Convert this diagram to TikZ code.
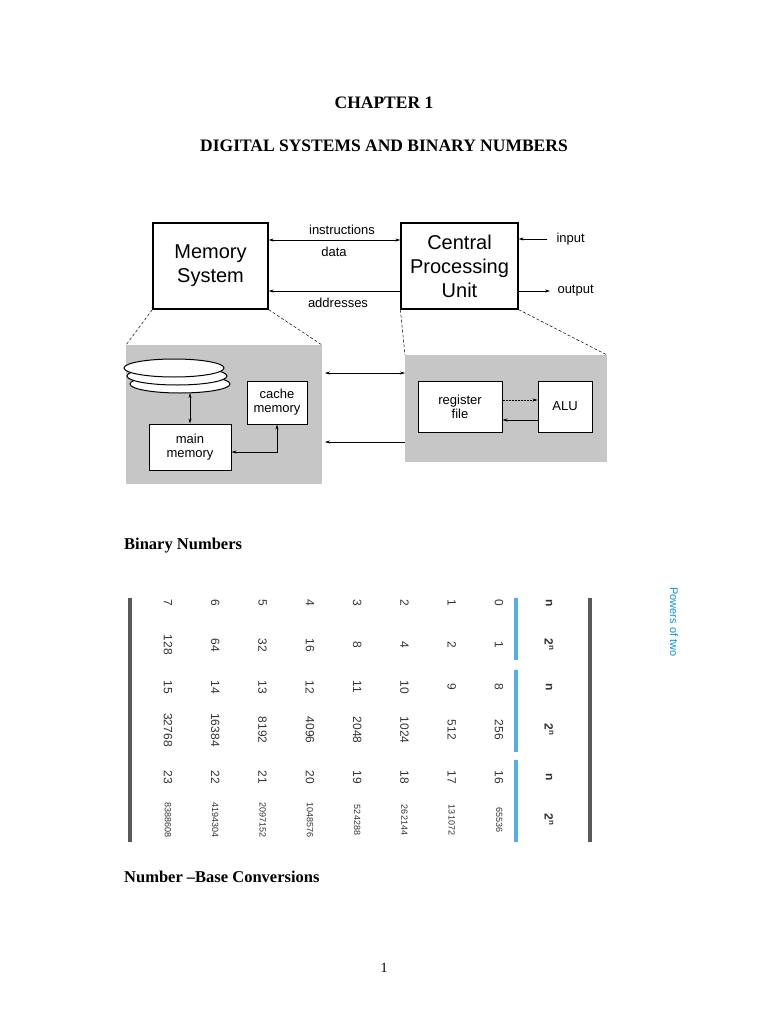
\documentclass[tikz,border=0pt]{standalone}
\usepackage{fontspec}
\setmainfont{Liberation Serif}
\newfontfamily\dsans{Liberation Sans}
\usetikzlibrary{arrows.meta,patterns}
\begin{document}
\begin{tikzpicture}[x=1pt,y=-1pt,
  box/.style={draw,line width=1.3pt,font=\dsans,align=center,inner sep=0},
  sbox/.style={draw,line width=1pt,fill=white,font=\dsans\fontsize{13}{14}\selectfont,align=center,inner sep=0},
  lbl/.style={font=\dsans\fontsize{13}{14}\selectfont},
  arr/.style={-{Stealth[length=5pt,width=3pt]},line width=0.5pt},
  darr/.style={{Stealth[length=5pt,width=3pt]}-{Stealth[length=5pt,width=3pt]},line width=0.5pt},
  shade/.style={fill=gray!45,draw=none},
  dsh/.style={densely dashed,line width=0.5pt},
  head/.style={font=\bfseries\fontsize{17.5}{20}\selectfont,inner sep=0},
  dig/.style={rotate=-90,font=\dsans\fontsize{12}{12}\selectfont,text=black!80},
  gbar/.style={line width=4pt,draw=gray!70!black},
  cbar/.style={line width=4pt,draw=cyan!80!blue!70}]
\useasboundingbox (0,0) rectangle (768,1024);
\fill[white] (0,0) rectangle (768,1024);
\node[head] (t1) at (384,103) {CHAPTER 1};
\node[head] (t2) at (384,146) {DIGITAL SYSTEMS AND BINARY NUMBERS};
% top boxes
\node[box,minimum width=115,minimum height=86,font=\dsans\fontsize{20}{24}\selectfont] (mem) at (210.5,266) {Memory\\System};
\node[box,minimum width=117,minimum height=86,font=\dsans\fontsize{20}{24}\selectfont] (cpu) at (459.5,266) {Central\\Processing\\Unit};
\draw[darr] (mem.east|-0,240) -- (cpu.west|-0,240);
\node[lbl] (ins) at (342,230) {instructions};
\node[lbl] (dat) at (334,252) {data};
\draw[arr] (cpu.west|-0,291) -- (mem.east|-0,291);
\node[lbl] (adr) at (338,303) {addresses};
\coordinate (inS) at (547,239);
\draw[arr] (inS) -- (cpu.east|-inS);
\node[lbl,anchor=west] (inp) at (553,239) {input};
\coordinate (outE) at (550,291);
\draw[arr] (cpu.east|-outE) -- (outE);
\node[lbl,anchor=west] (outp) at (554,291) {output};
% shaded areas
\fill[shade] (126,345) rectangle (322,484);
\fill[shade] (405,355) rectangle (607,462);
\coordinate (la) at (126,345); \coordinate (lb) at (322,345);
\coordinate (ra) at (405,355); \coordinate (rb) at (607,355);
\draw[dsh] (mem.south west) -- (la);
\draw[dsh] (mem.south east) -- (lb);
\draw[dsh] (cpu.south west) -- (ra);
\draw[dsh] (cpu.south east) -- (rb);
% disks
\draw[line width=1pt,fill=white] (180,384) ellipse (50 and 9);
\draw[line width=1pt,fill=white] (177,376) ellipse (50 and 9);
\draw[line width=1pt,fill=white] (174,368) ellipse (50 and 9);
\coordinate (disk) at (190,393);
\node[sbox,minimum width=60,minimum height=43] (cache) at (277,402.5) {cache\\memory};
\node[sbox,minimum width=82,minimum height=46] (main) at (190,447) {main\\memory};
\draw[darr] (disk) -- (main.north);
\draw[darr] (main.east|-0,452) -| (cache.south);
\node[sbox,minimum width=84,minimum height=51] (reg) at (460,406.5) {register\\file};
\node[sbox,minimum width=54,minimum height=51] (alu) at (565,406.5) {ALU};
\draw[arr,densely dotted] (reg.east|-0,400) -- (alu.west|-0,400);
\draw[arr] (alu.west|-0,420) -- (reg.east|-0,420);
\coordinate (l1) at (325,373); \coordinate (r1) at (405,373);
\draw[darr] (l1) -- (r1);
\coordinate (l2) at (325,442); \coordinate (r2) at (405,442);
\draw[arr] (r2) -- (l2);
% headings
\node[head,anchor=west,font=\bfseries\fontsize{16.5}{20}\selectfont] (bn) at (124,546) {Binary Numbers};
\node[head,anchor=west,font=\bfseries\fontsize{16.5}{20}\selectfont] (nb) at (124,877) {Number –Base Conversions};
\node[font=\fontsize{14}{16}\selectfont] (pg) at (384,968) {1};
% table
\draw[gbar] (130,598) -- (130,842);
\draw[gbar] (590,598) -- (590,842);
\draw[cbar] (516,598) -- (516,660);
\draw[cbar] (516,670) -- (516,752);
\draw[cbar] (516,760) -- (516,842);
\node[rotate=-90,font=\dsans\fontsize{11}{12}\selectfont,text=cyan!80!blue] (pw) at (674,622) {Powers of two};
\foreach \y in {603,687,777}{
  \node[dig,font=\dsans\bfseries\fontsize{12}{12}\selectfont] at (549,\y) {n};}
\foreach \y in {645,730,820}{
  \node[dig,font=\dsans\bfseries\fontsize{12}{12}\selectfont] at (549,\y) {2\textsuperscript{n}};}
\foreach \t [count=\i] in {7,6,5,4,3,2,1,0}
  \node[dig] at ({120+(\i-1)*47.3+48},603) {\t};
\foreach \t [count=\i] in {128,64,32,16,8,4,2,1}
  \node[dig] at ({120+(\i-1)*47.3+48},645) {\t};
\foreach \t [count=\i] in {15,14,13,12,11,10,9,8}
  \node[dig] at ({120+(\i-1)*47.3+48},687) {\t};
\foreach \t [count=\i] in {32768,16384,8192,4096,2048,1024,512,256}
  \node[dig] at ({120+(\i-1)*47.3+48},730) {\t};
\foreach \t [count=\i] in {23,22,21,20,19,18,17,16}
  \node[dig] at ({120+(\i-1)*47.3+48},777) {\t};
\foreach \t [count=\i] in {8388608,4194304,2097152,1048576,524288,262144,131072,65536}
  \node[dig,font=\dsans\fontsize{9}{9}\selectfont] at ({120+(\i-1)*47.3+48},820) {\t};
\end{tikzpicture}
\end{document}
